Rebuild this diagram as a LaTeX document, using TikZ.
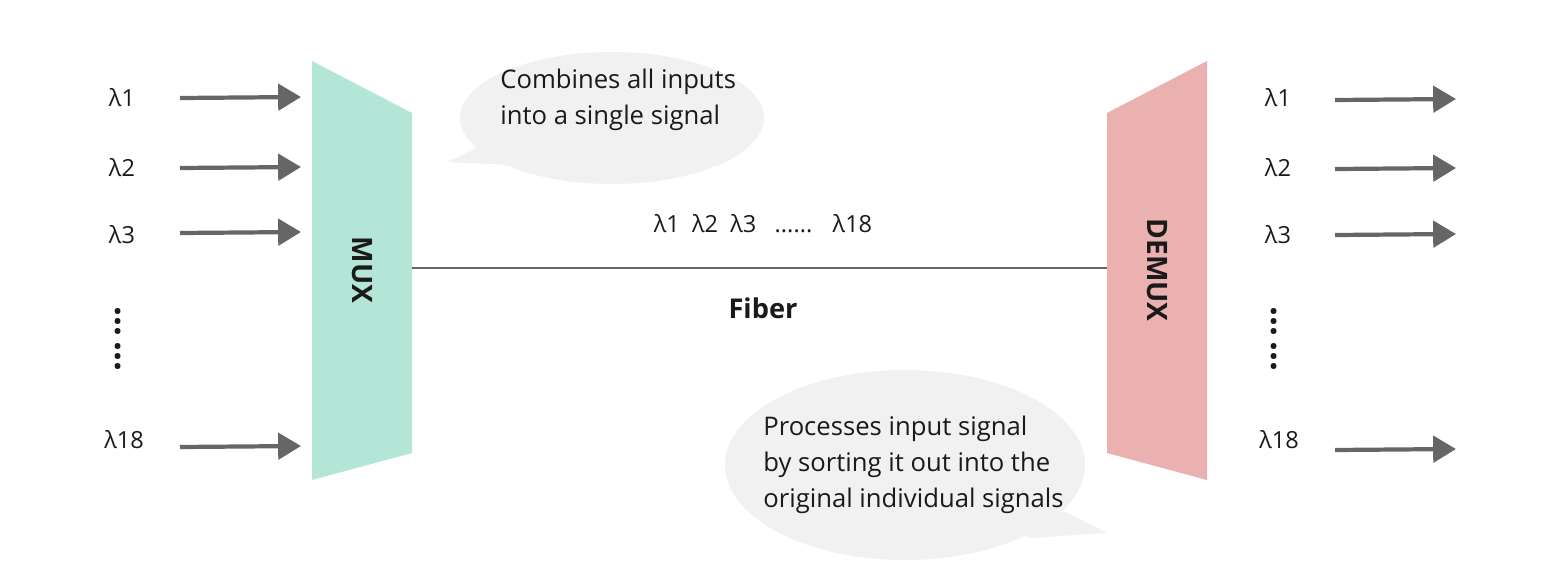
\documentclass[tikz,border=0pt]{standalone}
\usepackage{fontspec}
\setmainfont{Open Sans}
\usetikzlibrary{arrows.meta}
\definecolor{muxgreen}{HTML}{B3E6D6}
\definecolor{demuxred}{HTML}{EAB1B0}
\definecolor{arrowgray}{HTML}{666666}
\definecolor{bubblegray}{HTML}{F1F1F1}
\definecolor{textblack}{HTML}{1A1A1A}
\tikzset{lbl/.style={text=textblack, font=\fontsize{13.4}{16}\selectfont, inner sep=0pt}}
\tikzset{inarrow/.style={draw=arrowgray, line width=2.4pt, -{Triangle[length=13pt,width=15pt]}}}
\tikzset{boxlbl/.style={text=textblack, font=\fontsize{16}{18}\selectfont\bfseries, rotate=-90, inner sep=0pt}}
\tikzset{bubbletxt/.style={text=textblack, font=\fontsize{14.6}{20.5}\selectfont, align=left, inner sep=0pt, anchor=north west}}
\tikzset{vdots/.style={text=textblack, font=\fontsize{20}{20}\selectfont\bfseries, rotate=90, inner sep=0pt}}

\begin{document}
\begin{tikzpicture}[x=0.02cm, y=-0.02cm]

\useasboundingbox (0,0) rectangle (1560,586);

% mux and demux blocks
\fill[muxgreen] (312,61) -- (412,113) -- (412,453) -- (312,480) -- cycle;
\fill[demuxred] (1107,113) -- (1207,61) -- (1207,480) -- (1107,453) -- cycle;
\node[boxlbl] (mux) at (362,270) {MUX};
\node[boxlbl] (demux) at (1157,270) {DEMUX};

\coordinate (muxout) at (412,268);
\coordinate (demuxin) at (1107,268);
\draw[arrowgray, line width=1.3pt] (muxout) -- (demuxin);

\node[lbl] (fibl) at (763,224) {λ1 \ λ2 \ λ3 \ \ ...... \ \ λ18};
\node[lbl, font=\fontsize{15.5}{18}\selectfont\bfseries] (fiber) at (763,308) {Fiber};

% inputs
\node[lbl] (in1) at (122,98) {λ1};
\node[lbl] (in2) at (122,168) {λ2};
\node[lbl] (in3) at (122,235) {λ3};
\node[vdots] (indots) at (118,339) {...\,...};
\node[lbl] (in18) at (124,440) {λ18};

\coordinate (a1s) at (180,98);  \coordinate (a1e) at (301,97);
\coordinate (a2s) at (180,168); \coordinate (a2e) at (301,167);
\coordinate (a3s) at (180,233); \coordinate (a3e) at (301,232);
\coordinate (a18s) at (180,447); \coordinate (a18e) at (301,446);
\draw[inarrow] (a1s) -- (a1e);
\draw[inarrow] (a2s) -- (a2e);
\draw[inarrow] (a3s) -- (a3e);
\draw[inarrow] (a18s) -- (a18e);

% outputs
\node[lbl] (out1) at (1278,98) {λ1};
\node[lbl] (out2) at (1278,168) {λ2};
\node[lbl] (out3) at (1278,235) {λ3};
\node[vdots] (outdots) at (1274,339) {...\,...};
\node[lbl] (out18) at (1279,440) {λ18};

\coordinate (b1s) at (1335,100);  \coordinate (b1e) at (1456,99);
\coordinate (b2s) at (1335,169);  \coordinate (b2e) at (1456,168);
\coordinate (b3s) at (1335,235);  \coordinate (b3e) at (1456,234);
\coordinate (b18s) at (1335,450); \coordinate (b18e) at (1456,449);
\draw[inarrow] (b1s) -- (b1e);
\draw[inarrow] (b2s) -- (b2e);
\draw[inarrow] (b3s) -- (b3e);
\draw[inarrow] (b18s) -- (b18e);

% speech bubbles
\fill[bubblegray] (612,118) ellipse [x radius=3.04cm, y radius=1.32cm];
\fill[bubblegray] (447,162) -- (481,146) -- (540,150) -- (512,165) -- cycle;
\node[bubbletxt] (muxnote) at (500,69) {Combines all inputs\\into a single signal};

\fill[bubblegray] (905,465) ellipse [x radius=3.6cm, y radius=1.9cm];
\fill[bubblegray] (1107,533) -- (1066,512) -- (1000,520) -- (1030,538) -- cycle;
\node[bubbletxt] (demuxnote) at (763,416) {Processes input signal\\by sorting it out into the\\original individual signals};

\end{tikzpicture}
\end{document}
